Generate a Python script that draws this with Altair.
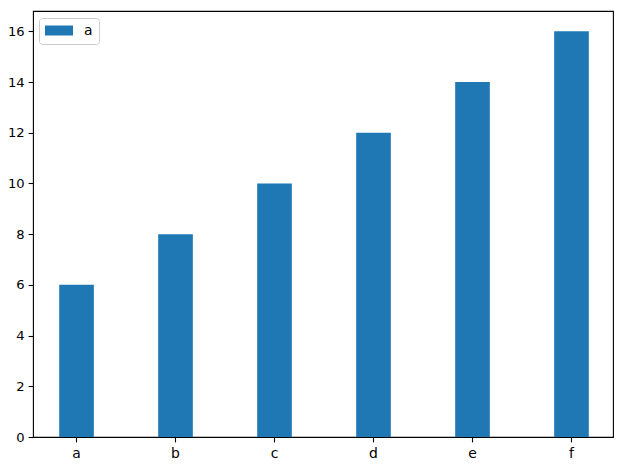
import altair as alt
import pandas as pd

categories = ["a", "b", "c", "d", "e", "f"]
values = [6, 8, 10, 12, 14, 16]
series = ["a"] * 6
y_ticks = [0, 2, 4, 6, 8, 10, 12, 14, 16]

df = pd.DataFrame({"cat": categories, "val": values, "series": series})

FONT = "DejaVu Sans"
FS = 13.9

chart = alt.Chart(df).mark_bar(color="#1f77b4").encode(
    x=alt.X("cat:N", sort=categories, title=None,
            scale=alt.Scale(paddingInner=0.65, paddingOuter=0.2545, align=0.52),
            axis=alt.Axis(labelAngle=0, domain=False, ticks=True, tickSize=4.9,
                          tickWidth=1.1, tickColor="black", labelPadding=4.9,
                          labelColor="black", labelFont=FONT, labelFontSize=FS,
                          grid=False)),
    y=alt.Y("val:Q", title=None,
            scale=alt.Scale(domain=[0, 16.8], nice=False, zero=True),
            axis=alt.Axis(values=y_ticks, domain=False, tickSize=4.9, tickWidth=1.1,
                          tickColor="black", labelPadding=4.0, labelColor="black",
                          labelFont=FONT, labelFontSize=13.1, grid=False,
                          labelFlush=False)),
    color=alt.Color("series:N", scale=alt.Scale(range=["#1f77b4"]),
                    legend=alt.Legend(title=None, orient="none", legendX=6, legendY=7,
                                      symbolType="M-1,-0.357L1,-0.357L1,0.357L-1,0.357Z",
                                      symbolSize=784, symbolStrokeWidth=0,
                                      symbolOpacity=1, clipHeight=13,
                                      labelFont=FONT, labelFontSize=FS, labelColor="black",
                                      labelOffset=11,
                                      padding=6, strokeColor="#cccccc",
                                      fillColor="white", cornerRadius=3)),
).properties(
    width=580, height=426,
    autosize=alt.AutoSizeParams(type="none"),
    padding={"left": 25, "top": 3, "right": 3, "bottom": 23},
).configure_view(stroke="black", strokeWidth=1.1)

chart.save("out.html", embed_options={"renderer": "svg", "actions": False})
